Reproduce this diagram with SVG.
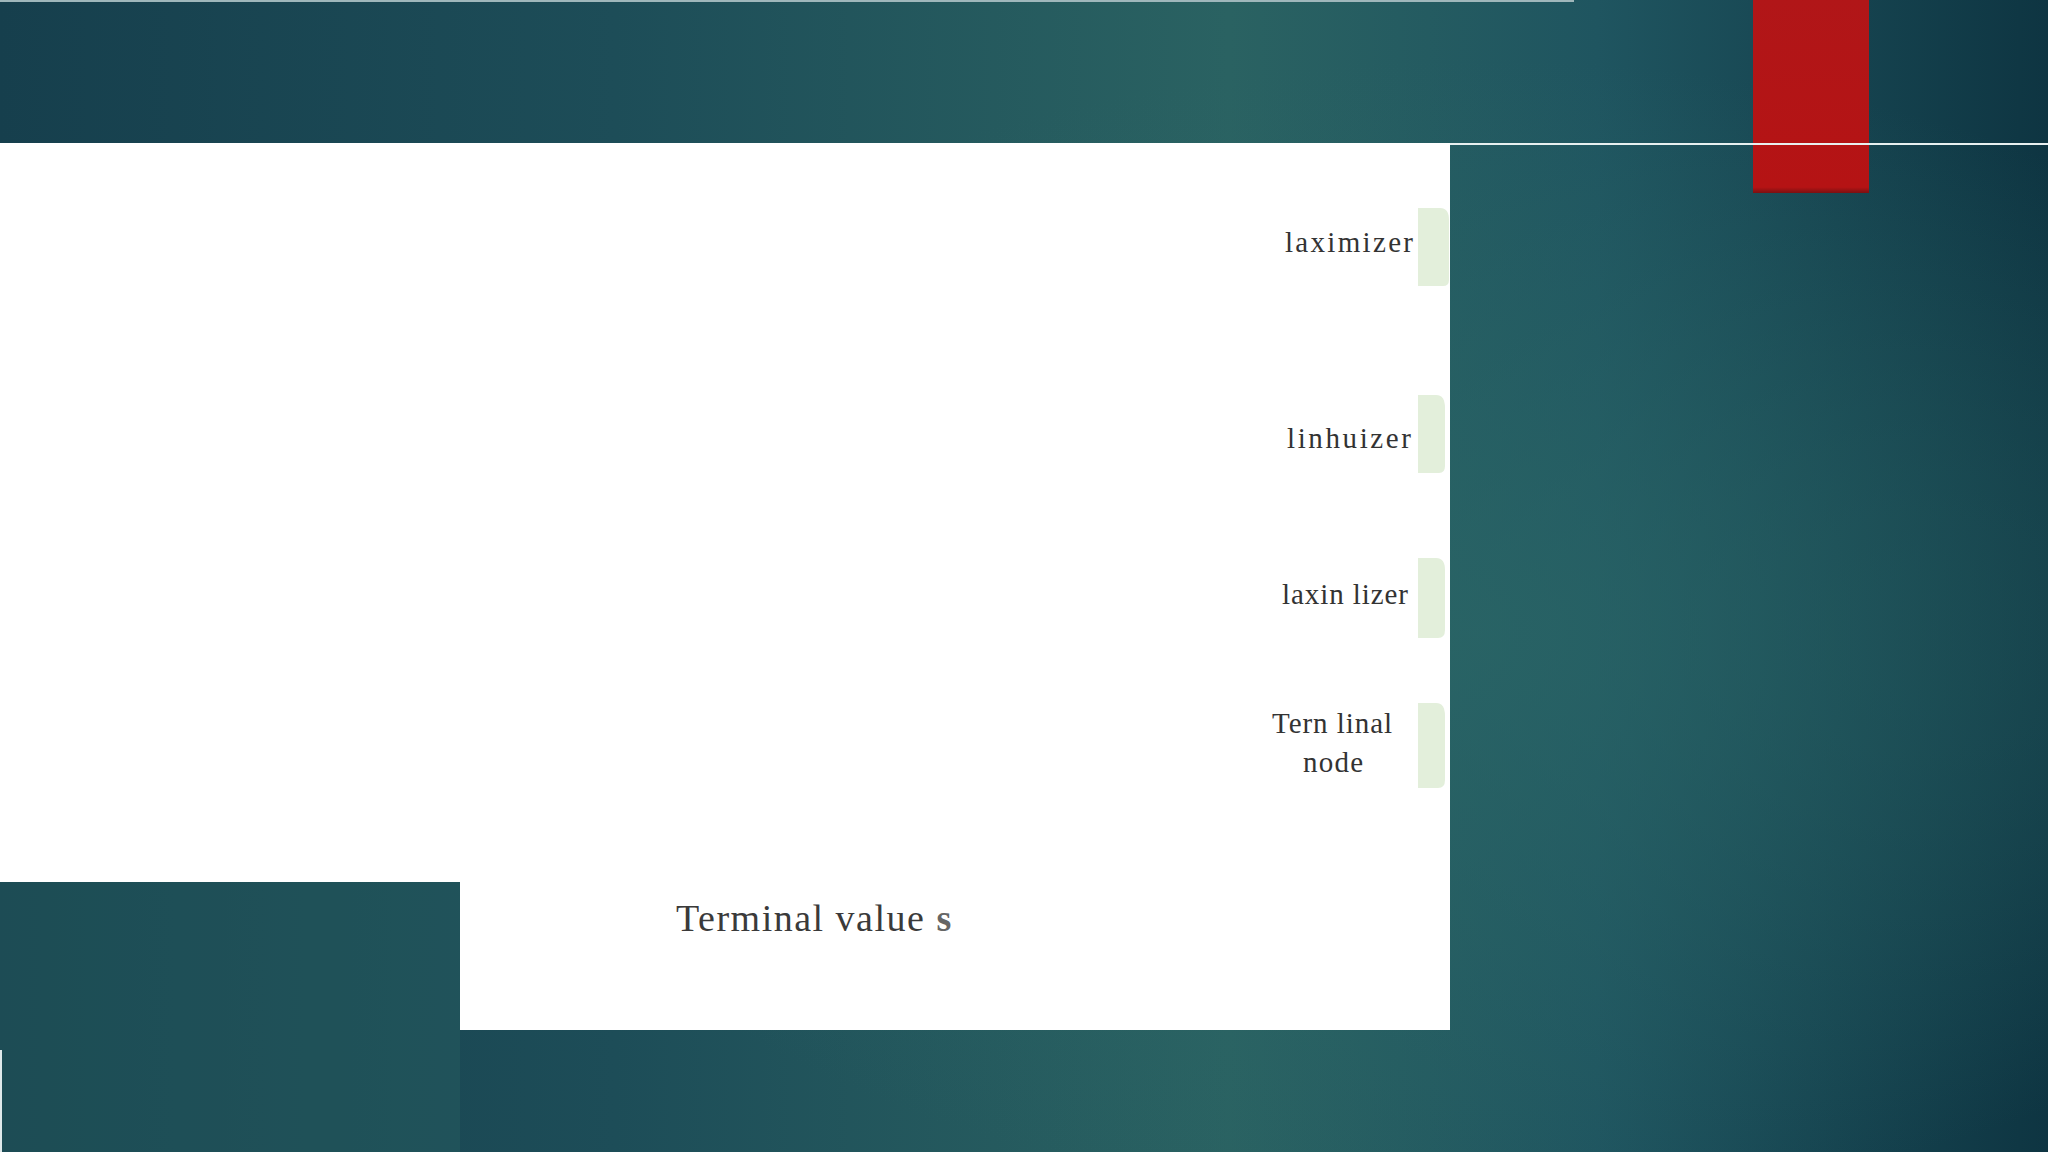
<svg xmlns="http://www.w3.org/2000/svg" width="2048" height="1152" viewBox="0 0 2048 1152">
<style>
.lbl{font-family:"Liberation Serif","Times New Roman",serif;font-size:29px;fill:#333333}
.tv{font-family:"Liberation Serif","Times New Roman",serif;font-size:38px;fill:#3a3a3a;letter-spacing:1.5px}
.tab{fill:#e3efdb}
.paper{fill:#ffffff}
</style>
<defs>
<linearGradient id="bgH" x1="0" y1="0" x2="1" y2="0">
<stop offset="0" stop-color="#163f4d"/>
<stop offset="0.3" stop-color="#1d4d58"/>
<stop offset="0.6" stop-color="#2a6262"/>
<stop offset="0.78" stop-color="#1f5560"/>
<stop offset="1" stop-color="#0e3542"/>
</linearGradient>
<radialGradient id="glow" cx="0.72" cy="0.55" r="0.5">
<stop offset="0" stop-color="#2b6767" stop-opacity="0.7"/>
<stop offset="1" stop-color="#2b6767" stop-opacity="0"/>
</radialGradient>
<linearGradient id="red" x1="0" y1="0" x2="0" y2="1">
<stop offset="0" stop-color="#b11618"/>
<stop offset="0.97" stop-color="#b51314"/>
<stop offset="1" stop-color="#7a1012"/>
</linearGradient>
</defs>
<g id="background">
<rect x="0" y="0" width="2048" height="1152" fill="url(#bgH)"/>
<rect x="0" y="0" width="2048" height="1152" fill="url(#glow)"/>
<rect x="0" y="882" width="460" height="270" fill="#276262" opacity="0.4"/>
<rect x="0" y="0" width="1574" height="2" fill="#9fb7bb"/>
<rect x="0" y="1050" width="2" height="102" fill="#dfe9ea"/>
</g>
<g id="red-bar">
<rect x="1753" y="0" width="116" height="193" fill="url(#red)"/>
</g>
<g id="divider">
<rect x="1450" y="143" width="598" height="2" fill="#e8f0f0"/>
</g>
<g id="paper">
<path class="paper" d="M0 143 H1450 V1030 H460 V882 H0 Z"/>
</g>
<g id="node-maximizer-1">
<path class="tab" d="M1418 208 H1440 Q1449 208 1449 220 V280 Q1449 286 1443 286 H1418 Z"/>
<text class="lbl" x="1285" y="252" textLength="128" lengthAdjust="spacing">laximizer</text>
</g>
<g id="node-minimizer">
<path class="tab" d="M1418 395 H1436 Q1445 395 1445 408 V466 Q1445 473 1439 473 H1418 Z"/>
<text class="lbl" x="1287" y="448" textLength="124" lengthAdjust="spacing">linhuizer</text>
</g>
<g id="node-maximizer-2">
<path class="tab" d="M1418 558 H1436 Q1445 558 1445 570 V630 Q1445 638 1438 638 H1418 Z"/>
<text class="lbl" x="1282" y="604" textLength="126" lengthAdjust="spacing">laxin lizer</text>
</g>
<g id="node-terminal">
<path class="tab" d="M1418 703 H1436 Q1445 703 1445 716 V780 Q1445 788 1438 788 H1418 Z"/>
<text class="lbl" x="1272" y="733" textLength="120" lengthAdjust="spacing">Tern linal</text>
<text class="lbl" x="1303" y="772" textLength="60" lengthAdjust="spacing">node</text>
</g>
<g id="terminal-values">
<text class="tv" x="676" y="931">Terminal value <tspan font-weight="bold" fill="#666666">s</tspan></text>
</g>
</svg>
